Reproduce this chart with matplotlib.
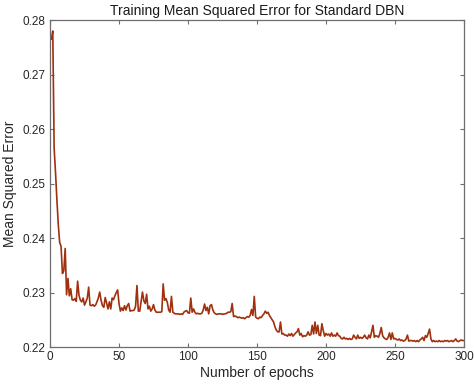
import numpy as np
import matplotlib
matplotlib.use("Agg")
import matplotlib.pyplot as plt
from matplotlib.ticker import FormatStrFormatter

OUTPUT_FILE = "out.png"

LINE_COLOR = "#A0300E"
AXIS_COLOR = "#6E6E6E"

# training MSE per epoch (epochs 1..300)
mse = [
    0.2765, 0.2780, 0.2565, 0.2520, 0.2470, 0.2425, 0.2392, 0.2385, 0.2335, 0.2340,
    0.2381, 0.2296, 0.2326, 0.2294, 0.2307, 0.2287, 0.2286, 0.2289, 0.2284, 0.2321,
    0.2295, 0.2286, 0.2283, 0.2290, 0.2277, 0.2283, 0.2290, 0.2310, 0.2277, 0.2276,
    0.2278, 0.2275, 0.2277, 0.2283, 0.2290, 0.2301, 0.2286, 0.2276, 0.2273, 0.2291,
    0.2281, 0.2270, 0.2283, 0.2270, 0.2290, 0.2287, 0.2294, 0.2300, 0.2305, 0.2280,
    0.2266, 0.2272, 0.2267, 0.2276, 0.2268, 0.2276, 0.2280, 0.2266, 0.2267, 0.2267,
    0.2268, 0.2275, 0.2313, 0.2266, 0.2266, 0.2283, 0.2301, 0.2285, 0.2280, 0.2297,
    0.2270, 0.2275, 0.2266, 0.2270, 0.2278, 0.2268, 0.2264, 0.2264, 0.2264, 0.2264,
    0.2265, 0.2316, 0.2286, 0.2289, 0.2282, 0.2268, 0.2264, 0.2293, 0.2264, 0.2262,
    0.2261, 0.2261, 0.2261, 0.2260, 0.2261, 0.2260, 0.2264, 0.2266, 0.2267, 0.2263,
    0.2262, 0.2290, 0.2264, 0.2270, 0.2264, 0.2261, 0.2262, 0.2261, 0.2261, 0.2262,
    0.2268, 0.2279, 0.2267, 0.2273, 0.2261, 0.2276, 0.2278, 0.2268, 0.2263, 0.2261,
    0.2260, 0.2261, 0.2261, 0.2261, 0.2260, 0.2261, 0.2261, 0.2262, 0.2264, 0.2264,
    0.2265, 0.2280, 0.2256, 0.2257, 0.2256, 0.2254, 0.2255, 0.2254, 0.2253, 0.2254,
    0.2252, 0.2254, 0.2256, 0.2255, 0.2258, 0.2269, 0.2258, 0.2293, 0.2255, 0.2253,
    0.2252, 0.2255, 0.2254, 0.2258, 0.2261, 0.2266, 0.2262, 0.2264, 0.2258, 0.2254,
    0.2250, 0.2246, 0.2237, 0.2231, 0.2228, 0.2228, 0.2246, 0.2224, 0.2225, 0.2222,
    0.2222, 0.2220, 0.2224, 0.2221, 0.2225, 0.2220, 0.2223, 0.2226, 0.2228, 0.2234,
    0.2222, 0.2225, 0.2219, 0.2221, 0.2220, 0.2222, 0.2228, 0.2222, 0.2223, 0.2240,
    0.2224, 0.2246, 0.2225, 0.2240, 0.2222, 0.2221, 0.2243, 0.2230, 0.2220, 0.2225,
    0.2222, 0.2224, 0.2220, 0.2226, 0.2220, 0.2222, 0.2220, 0.2226, 0.2221, 0.2220,
    0.2216, 0.2215, 0.2218, 0.2215, 0.2216, 0.2214, 0.2216, 0.2214, 0.2215, 0.2222,
    0.2218, 0.2215, 0.2222, 0.2216, 0.2218, 0.2216, 0.2218, 0.2222, 0.2217, 0.2215,
    0.2222, 0.2217, 0.2228, 0.2240, 0.2218, 0.2221, 0.2220, 0.2218, 0.2225, 0.2236,
    0.2221, 0.2217, 0.2215, 0.2214, 0.2218, 0.2226, 0.2214, 0.2226, 0.2215, 0.2216,
    0.2214, 0.2213, 0.2215, 0.2212, 0.2213, 0.2211, 0.2212, 0.2215, 0.2222, 0.2211,
    0.2212, 0.2212, 0.2211, 0.2212, 0.2210, 0.2212, 0.2210, 0.2213, 0.2215, 0.2218,
    0.2212, 0.2221, 0.2218, 0.2225, 0.2233, 0.2215, 0.2210, 0.2212, 0.2210, 0.2211,
    0.2210, 0.2212, 0.2210, 0.2211, 0.2210, 0.2212, 0.2211, 0.2212, 0.2210, 0.2211,
    0.2212, 0.2210, 0.2212, 0.2215, 0.2211, 0.2210, 0.2212, 0.2213, 0.2212, 0.2212,
]
epochs = np.arange(1, len(mse) + 1)

x_ticks = [0, 50, 100, 150, 200, 250, 300]
y_ticks = [0.22, 0.23, 0.24, 0.25, 0.26, 0.27, 0.28]

plt.rcParams.update({
    "font.family": ["Liberation Sans", "DejaVu Sans"],
    "font.size": 8.5,
})


def main():
    fig = plt.figure(figsize=(4.74, 3.90), dpi=100, facecolor="white")
    ax = fig.add_axes([0.1055, 0.110, 0.8735, 0.8385])

    ax.plot(epochs, mse, color=LINE_COLOR, linewidth=1.2)

    ax.set_xlim(0, 300)
    ax.set_ylim(0.22, 0.28)
    ax.set_xticks(x_ticks)
    ax.set_yticks(y_ticks)
    ax.yaxis.set_major_formatter(FormatStrFormatter("%.2f"))

    ax.tick_params(direction="in", top=True, right=True, length=3,
                   width=0.8, color=AXIS_COLOR, labelsize=8.5,
                   labelcolor="#262626", pad=3)
    for sp in ax.spines.values():
        sp.set_color(AXIS_COLOR)
        sp.set_linewidth(0.9)

    ax.set_title("Training Mean Squared Error for Standard DBN",
                 fontsize=10, color="#1a1a1a", pad=4)
    ax.set_xlabel("Number of epochs", fontsize=10, color="#262626", labelpad=2)
    ax.set_ylabel("Mean Squared Error", fontsize=10, color="#262626", labelpad=4)

    fig.savefig(OUTPUT_FILE, dpi=100, facecolor="white")


if __name__ == "__main__":
    main()
